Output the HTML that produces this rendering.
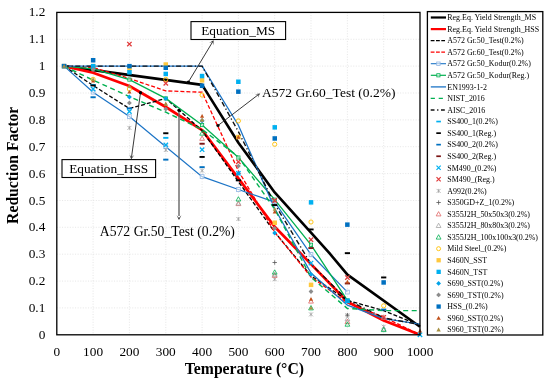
<!DOCTYPE html>
<html><head><meta charset="utf-8"><title>Reduction Factor vs Temperature</title>
<style>html,body{margin:0;padding:0;background:#fff}body{width:550px;height:384px;overflow:hidden}</style></head>
<body>
<svg width="550" height="384" viewBox="0 0 550 384" style="display:block;font-family:'Liberation Serif',serif">
<rect width="550" height="384" fill="#fff"/>
<path d="M93.1 12.4 V334.8 M129.4 12.4 V334.8 M165.8 12.4 V334.8 M202.1 12.4 V334.8 M238.4 12.4 V334.8 M274.7 12.4 V334.8 M311.0 12.4 V334.8 M347.4 12.4 V334.8 M383.7 12.4 V334.8 M56.8 307.9 H420.0 M56.8 281.1 H420.0 M56.8 254.2 H420.0 M56.8 227.3 H420.0 M56.8 200.5 H420.0 M56.8 173.6 H420.0 M56.8 146.7 H420.0 M56.8 119.9 H420.0 M56.8 93.0 H420.0 M56.8 66.1 H420.0 M56.8 39.3 H420.0" stroke="#dedede" stroke-width="0.7" stroke-dasharray="1.1 1.5" fill="none"/>
<polyline points="64.1,66.1 202.1,84.9 238.4,142.7 274.7,192.4 311.0,232.7 329.2,252.9 347.4,274.6 420.0,326.7" fill="none" stroke="#000" stroke-width="2.6" stroke-linejoin="round"/>
<polyline points="64.1,66.1 93.1,72.8 129.4,86.0 165.8,107.0 202.1,130.1 238.4,178.4 274.7,226.8 311.0,264.1 347.4,301.8 383.7,320.6 420.0,334.8" fill="none" stroke="#ff0000" stroke-width="2.7" stroke-linejoin="round"/>
<polyline points="64.1,66.1 93.1,85.5 129.4,108.6 165.8,98.4 202.1,130.6 238.4,181.7 274.7,232.2 311.0,275.7 347.4,300.4 383.7,310.6 420.0,325.4" fill="none" stroke="#000" stroke-width="1.3" stroke-dasharray="4 2"/>
<polyline points="64.1,66.1 93.1,67.5 129.4,78.5 165.8,90.9 202.1,92.2 238.4,170.9 274.7,232.2 311.0,277.0 347.4,302.8 383.7,317.1 420.0,334.8" fill="none" stroke="#ff0000" stroke-width="1.3" stroke-dasharray="4 2"/>
<polyline points="64.1,66.1 93.1,92.2 129.4,116.6 165.8,146.7 202.1,176.6 238.4,189.5 274.7,202.1 311.0,254.5 347.4,292.1" fill="none" stroke="#1c74c6" stroke-width="1.2"/>
<polyline points="64.1,66.1 93.1,68.8 129.4,79.6 165.8,98.4 202.1,125.0 238.4,157.5 274.7,199.7 311.0,244.8 347.4,300.4" fill="none" stroke="#00b050" stroke-width="1.3"/>
<polyline points="64.1,66.1 202.1,66.1 238.4,125.2 274.7,208.5 311.0,273.0 347.4,305.2 383.7,318.7 420.0,324.1" fill="none" stroke="#1c74c6" stroke-width="1.3"/>
<polyline points="64.1,66.1 93.1,80.2 129.4,96.6 165.8,112.2 202.1,129.5 238.4,156.9 274.7,209.2 311.0,277.3 347.4,308.5 383.7,310.6 420.0,310.6" fill="none" stroke="#00b050" stroke-width="1.4" stroke-dasharray="5 3.5"/>
<polyline points="64.1,66.1 202.1,66.1 238.4,131.7 274.7,204.0 311.0,264.1 347.4,299.9 383.7,317.9 420.0,324.6" fill="none" stroke="#111" stroke-width="1.4" stroke-dasharray="5 2.5 1.2 2.5"/>
<rect x="62.2" y="64.2" width="3.8" height="3.8" fill="#fff" fill-opacity="0.6" stroke="#8fb4e3" stroke-width="0.8"/>
<rect x="91.2" y="90.3" width="3.8" height="3.8" fill="#fff" fill-opacity="0.6" stroke="#8fb4e3" stroke-width="0.8"/>
<rect x="127.5" y="114.7" width="3.8" height="3.8" fill="#fff" fill-opacity="0.6" stroke="#8fb4e3" stroke-width="0.8"/>
<rect x="163.9" y="144.8" width="3.8" height="3.8" fill="#fff" fill-opacity="0.6" stroke="#8fb4e3" stroke-width="0.8"/>
<rect x="200.2" y="174.7" width="3.8" height="3.8" fill="#fff" fill-opacity="0.6" stroke="#8fb4e3" stroke-width="0.8"/>
<rect x="236.5" y="187.6" width="3.8" height="3.8" fill="#fff" fill-opacity="0.6" stroke="#8fb4e3" stroke-width="0.8"/>
<rect x="272.8" y="200.2" width="3.8" height="3.8" fill="#fff" fill-opacity="0.6" stroke="#8fb4e3" stroke-width="0.8"/>
<rect x="309.1" y="252.6" width="3.8" height="3.8" fill="#fff" fill-opacity="0.6" stroke="#8fb4e3" stroke-width="0.8"/>
<rect x="345.5" y="290.2" width="3.8" height="3.8" fill="#fff" fill-opacity="0.6" stroke="#8fb4e3" stroke-width="0.8"/>
<rect x="62.5" y="64.5" width="3.2" height="3.2" fill="#fff" fill-opacity="0.6" stroke="#00b050" stroke-width="0.8"/>
<rect x="91.5" y="67.2" width="3.2" height="3.2" fill="#fff" fill-opacity="0.6" stroke="#00b050" stroke-width="0.8"/>
<rect x="127.8" y="78.0" width="3.2" height="3.2" fill="#fff" fill-opacity="0.6" stroke="#00b050" stroke-width="0.8"/>
<rect x="164.2" y="96.8" width="3.2" height="3.2" fill="#fff" fill-opacity="0.6" stroke="#00b050" stroke-width="0.8"/>
<rect x="200.5" y="123.4" width="3.2" height="3.2" fill="#fff" fill-opacity="0.6" stroke="#00b050" stroke-width="0.8"/>
<rect x="236.8" y="155.9" width="3.2" height="3.2" fill="#fff" fill-opacity="0.6" stroke="#00b050" stroke-width="0.8"/>
<rect x="273.1" y="198.1" width="3.2" height="3.2" fill="#fff" fill-opacity="0.6" stroke="#00b050" stroke-width="0.8"/>
<rect x="309.4" y="243.2" width="3.2" height="3.2" fill="#fff" fill-opacity="0.6" stroke="#00b050" stroke-width="0.8"/>
<rect x="345.8" y="298.8" width="3.2" height="3.2" fill="#fff" fill-opacity="0.6" stroke="#00b050" stroke-width="0.8"/>
<rect x="90.5" y="84.0" width="5.2" height="1.9" fill="#00b0f0"/>
<rect x="163.2" y="136.9" width="5.2" height="1.9" fill="#00b0f0"/>
<rect x="90.5" y="84.5" width="5.2" height="1.9" fill="#000"/>
<rect x="163.2" y="132.3" width="5.2" height="1.9" fill="#000"/>
<rect x="199.5" y="156.0" width="5.2" height="1.9" fill="#000"/>
<rect x="235.8" y="179.4" width="5.2" height="1.9" fill="#000"/>
<rect x="272.1" y="204.1" width="5.2" height="1.9" fill="#000"/>
<rect x="308.4" y="228.5" width="5.2" height="1.9" fill="#000"/>
<rect x="344.8" y="252.2" width="5.2" height="1.9" fill="#000"/>
<rect x="381.1" y="276.5" width="5.2" height="1.9" fill="#000"/>
<rect x="90.5" y="96.3" width="5.2" height="1.9" fill="#0070c0"/>
<rect x="126.8" y="107.4" width="5.2" height="1.9" fill="#0070c0"/>
<rect x="163.2" y="158.7" width="5.2" height="1.9" fill="#0070c0"/>
<rect x="199.5" y="166.2" width="5.2" height="1.9" fill="#0070c0"/>
<rect x="381.1" y="308.6" width="5.2" height="1.9" fill="#0070c0"/>
<rect x="199.5" y="142.8" width="5.2" height="1.9" fill="#7b1414"/>
<rect x="308.4" y="247.1" width="5.2" height="1.9" fill="#7b1414"/>
<rect x="344.8" y="282.5" width="5.2" height="1.9" fill="#7b1414"/>
<path d="M90.9 86.8L95.3 91.2M90.9 91.2L95.3 86.8" stroke="#00b0f0" stroke-width="1.3" fill="none"/>
<path d="M127.2 109.3L131.6 113.7M127.2 113.7L131.6 109.3" stroke="#00b0f0" stroke-width="1.3" fill="none"/>
<path d="M163.6 142.7L168.0 147.1M163.6 147.1L168.0 142.7" stroke="#00b0f0" stroke-width="1.3" fill="none"/>
<path d="M199.9 147.5L204.3 151.9M199.9 151.9L204.3 147.5" stroke="#00b0f0" stroke-width="1.3" fill="none"/>
<path d="M236.2 171.1L240.6 175.5M236.2 175.5L240.6 171.1" stroke="#00b0f0" stroke-width="1.3" fill="none"/>
<path d="M308.8 260.9L313.2 265.3M308.8 265.3L313.2 260.9" stroke="#00b0f0" stroke-width="1.3" fill="none"/>
<path d="M345.2 298.7L349.6 303.1M345.2 303.1L349.6 298.7" stroke="#00b0f0" stroke-width="1.3" fill="none"/>
<path d="M417.8 332.6L422.2 337.0M417.8 337.0L422.2 332.6" stroke="#00b0f0" stroke-width="1.3" fill="none"/>
<path d="M127.2 41.9L131.6 46.3M127.2 46.3L131.6 41.9" stroke="#e03a3a" stroke-width="1.3" fill="none"/>
<path d="M163.6 81.1L168.0 85.5M163.6 85.5L168.0 81.1" stroke="#e03a3a" stroke-width="1.3" fill="none"/>
<path d="M236.2 159.6L240.6 164.0M236.2 164.0L240.6 159.6" stroke="#e03a3a" stroke-width="1.3" fill="none"/>
<path d="M272.5 198.3L276.9 202.7M272.5 202.7L276.9 198.3" stroke="#e03a3a" stroke-width="1.3" fill="none"/>
<path d="M308.8 237.5L313.2 241.9M308.8 241.9L313.2 237.5" stroke="#e03a3a" stroke-width="1.3" fill="none"/>
<path d="M345.2 275.4L349.6 279.8M345.2 279.8L349.6 275.4" stroke="#e03a3a" stroke-width="1.3" fill="none"/>
<path d="M381.5 315.1L385.9 319.5M381.5 319.5L385.9 315.1" stroke="#e03a3a" stroke-width="1.3" fill="none"/>
<path d="M127.4 125.9L131.4 129.9M127.4 129.9L131.4 125.9M129.4 125.9V129.9" stroke="#9a9a9a" stroke-width="0.7" fill="none"/>
<path d="M163.8 148.0L167.8 152.0M163.8 152.0L167.8 148.0M165.8 148.0V152.0" stroke="#9a9a9a" stroke-width="0.7" fill="none"/>
<path d="M200.1 168.6L204.1 172.6M200.1 172.6L204.1 168.6M202.1 168.6V172.6" stroke="#9a9a9a" stroke-width="0.7" fill="none"/>
<path d="M236.4 217.0L240.4 221.0M236.4 221.0L240.4 217.0M238.4 217.0V221.0" stroke="#9a9a9a" stroke-width="0.7" fill="none"/>
<path d="M272.7 277.2L276.7 281.2M272.7 281.2L276.7 277.2M274.7 277.2V281.2" stroke="#9a9a9a" stroke-width="0.7" fill="none"/>
<path d="M309.0 312.4L313.0 316.4M309.0 316.4L313.0 312.4M311.0 312.4V316.4" stroke="#9a9a9a" stroke-width="0.7" fill="none"/>
<path d="M345.4 313.2L349.4 317.2M345.4 317.2L349.4 313.2M347.4 313.2V317.2" stroke="#9a9a9a" stroke-width="0.7" fill="none"/>
<path d="M381.7 324.7L385.7 328.7M381.7 328.7L385.7 324.7M383.7 324.7V328.7" stroke="#9a9a9a" stroke-width="0.7" fill="none"/>
<path d="M272.5 262.5H276.9M274.7 260.3V264.7" stroke="#555" stroke-width="0.8" fill="none"/>
<path d="M345.2 315.2H349.6M347.4 313.0V317.4" stroke="#555" stroke-width="0.8" fill="none"/>
<path d="M202.1 136.0L204.5 140.3H199.7Z" stroke="#e06666" stroke-width="0.8" fill="none"/>
<path d="M238.4 201.3L240.8 205.6H236.0Z" stroke="#e06666" stroke-width="0.8" fill="none"/>
<path d="M274.7 273.0L277.1 277.3H272.3Z" stroke="#e06666" stroke-width="0.8" fill="none"/>
<path d="M311.0 298.8L313.4 303.1H308.6Z" stroke="#e06666" stroke-width="0.8" fill="none"/>
<path d="M347.4 319.2L349.8 323.6H345.0Z" stroke="#e06666" stroke-width="0.8" fill="none"/>
<path d="M383.7 314.9L386.1 319.3H381.3Z" stroke="#e06666" stroke-width="0.8" fill="none"/>
<path d="M238.4 200.8L240.8 205.1H236.0Z" stroke="#a6a6a6" stroke-width="0.8" fill="none"/>
<path d="M274.7 272.0L277.1 276.3H272.3Z" stroke="#a6a6a6" stroke-width="0.8" fill="none"/>
<path d="M347.4 316.5L349.8 320.9H345.0Z" stroke="#a6a6a6" stroke-width="0.8" fill="none"/>
<path d="M383.7 326.5L386.1 330.8H381.3Z" stroke="#a6a6a6" stroke-width="0.8" fill="none"/>
<path d="M202.1 130.9L204.5 135.2H199.7Z" stroke="#00b050" stroke-width="0.8" fill="none"/>
<path d="M238.4 196.7L240.8 201.0H236.0Z" stroke="#00b050" stroke-width="0.8" fill="none"/>
<path d="M274.7 269.8L277.1 274.1H272.3Z" stroke="#00b050" stroke-width="0.8" fill="none"/>
<path d="M311.0 305.5L313.4 309.9H308.6Z" stroke="#00b050" stroke-width="0.8" fill="none"/>
<path d="M347.4 321.9L349.8 326.2H345.0Z" stroke="#00b050" stroke-width="0.8" fill="none"/>
<path d="M383.7 327.3L386.1 331.6H381.3Z" stroke="#00b050" stroke-width="0.8" fill="none"/>
<circle cx="93.1" cy="79.3" r="2.1" stroke="#ffc000" stroke-width="0.9" fill="none"/>
<circle cx="129.4" cy="89.0" r="2.1" stroke="#ffc000" stroke-width="0.9" fill="none"/>
<circle cx="165.8" cy="79.3" r="2.1" stroke="#ffc000" stroke-width="0.9" fill="none"/>
<circle cx="202.1" cy="95.1" r="2.1" stroke="#ffc000" stroke-width="0.9" fill="none"/>
<circle cx="238.4" cy="120.9" r="2.1" stroke="#ffc000" stroke-width="0.9" fill="none"/>
<circle cx="274.7" cy="144.3" r="2.1" stroke="#ffc000" stroke-width="0.9" fill="none"/>
<circle cx="311.0" cy="222.0" r="2.1" stroke="#ffc000" stroke-width="0.9" fill="none"/>
<circle cx="383.7" cy="305.8" r="2.1" stroke="#ffc000" stroke-width="0.9" fill="none"/>
<rect x="61.8" y="63.9" width="4.5" height="4.5" fill="#ffc83d"/>
<rect x="90.9" y="63.9" width="4.5" height="4.5" fill="#ffc83d"/>
<rect x="127.2" y="66.6" width="4.5" height="4.5" fill="#ffc83d"/>
<rect x="163.5" y="62.3" width="4.5" height="4.5" fill="#ffc83d"/>
<rect x="199.8" y="78.1" width="4.5" height="4.5" fill="#ffc83d"/>
<rect x="236.1" y="134.8" width="4.5" height="4.5" fill="#ffc83d"/>
<rect x="272.5" y="220.5" width="4.5" height="4.5" fill="#ffc83d"/>
<rect x="308.8" y="282.6" width="4.5" height="4.5" fill="#ffc83d"/>
<rect x="90.9" y="63.9" width="4.5" height="4.5" fill="#00b0f0"/>
<rect x="127.2" y="70.1" width="4.5" height="4.5" fill="#00b0f0"/>
<rect x="163.5" y="71.7" width="4.5" height="4.5" fill="#00b0f0"/>
<rect x="199.8" y="73.8" width="4.5" height="4.5" fill="#00b0f0"/>
<rect x="236.1" y="79.5" width="4.5" height="4.5" fill="#00b0f0"/>
<rect x="272.5" y="125.1" width="4.5" height="4.5" fill="#00b0f0"/>
<rect x="308.8" y="200.1" width="4.5" height="4.5" fill="#00b0f0"/>
<rect x="345.1" y="298.7" width="4.5" height="4.5" fill="#00b0f0"/>
<path d="M93.1 66.4L95.5 68.8L93.1 71.2L90.7 68.8Z" fill="#00a2e8"/>
<path d="M129.4 94.6L131.8 97.0L129.4 99.4L127.0 97.0Z" fill="#00a2e8"/>
<path d="M165.8 96.2L168.2 98.6L165.8 101.0L163.4 98.6Z" fill="#00a2e8"/>
<path d="M202.1 118.5L204.5 120.9L202.1 123.3L199.7 120.9Z" fill="#00a2e8"/>
<path d="M238.4 170.9L240.8 173.3L238.4 175.7L236.0 173.3Z" fill="#00a2e8"/>
<path d="M274.7 230.6L277.1 233.0L274.7 235.4L272.3 233.0Z" fill="#00a2e8"/>
<path d="M311.0 272.0L313.4 274.4L311.0 276.8L308.6 274.4Z" fill="#00a2e8"/>
<path d="M347.4 298.5L349.8 300.9L347.4 303.3L345.0 300.9Z" fill="#00a2e8"/>
<path d="M93.1 67.0L95.5 69.4L93.1 71.8L90.7 69.4Z" fill="#8c8c8c"/>
<path d="M129.4 100.5L131.8 102.9L129.4 105.3L127.0 102.9Z" fill="#8c8c8c"/>
<path d="M165.8 106.7L168.2 109.1L165.8 111.5L163.4 109.1Z" fill="#8c8c8c"/>
<path d="M202.1 118.0L204.5 120.4L202.1 122.8L199.7 120.4Z" fill="#8c8c8c"/>
<path d="M238.4 163.7L240.8 166.1L238.4 168.5L236.0 166.1Z" fill="#8c8c8c"/>
<path d="M274.7 226.0L277.1 228.4L274.7 230.8L272.3 228.4Z" fill="#8c8c8c"/>
<path d="M311.0 289.1L313.4 291.5L311.0 293.9L308.6 291.5Z" fill="#8c8c8c"/>
<rect x="61.8" y="63.9" width="4.5" height="4.5" fill="#0070c0"/>
<rect x="90.9" y="58.0" width="4.5" height="4.5" fill="#0070c0"/>
<rect x="127.2" y="63.9" width="4.5" height="4.5" fill="#0070c0"/>
<rect x="163.5" y="65.5" width="4.5" height="4.5" fill="#0070c0"/>
<rect x="199.8" y="83.5" width="4.5" height="4.5" fill="#0070c0"/>
<rect x="236.1" y="89.4" width="4.5" height="4.5" fill="#0070c0"/>
<rect x="272.5" y="136.2" width="4.5" height="4.5" fill="#0070c0"/>
<rect x="345.1" y="222.4" width="4.5" height="4.5" fill="#0070c0"/>
<rect x="381.4" y="280.2" width="4.5" height="4.5" fill="#0070c0"/>
<path d="M93.1 78.9L95.2 82.5H91.1Z" fill="#c0501a"/>
<path d="M129.4 89.9L131.5 93.6H127.4Z" fill="#c0501a"/>
<path d="M165.8 101.7L167.8 105.4H163.7Z" fill="#c0501a"/>
<path d="M202.1 114.1L204.1 117.7H200.0Z" fill="#c0501a"/>
<path d="M238.4 135.0L240.4 138.7H236.3Z" fill="#c0501a"/>
<path d="M274.7 209.7L276.8 213.4H272.7Z" fill="#c0501a"/>
<path d="M311.0 297.0L313.1 300.7H309.0Z" fill="#c0501a"/>
<path d="M347.4 279.8L349.4 283.5H345.3Z" fill="#c0501a"/>
<path d="M420.0 328.7L422.1 332.4H417.9Z" fill="#c0501a"/>
<path d="M64.1 64.1L66.1 67.8H62.0Z" fill="#a69042"/>
<path d="M93.1 77.2L95.2 80.9H91.1Z" fill="#a69042"/>
<path d="M129.4 84.0L131.5 87.7H127.4Z" fill="#a69042"/>
<path d="M165.8 102.0L167.8 105.7H163.7Z" fill="#a69042"/>
<path d="M202.1 117.8L204.1 121.5H200.0Z" fill="#a69042"/>
<path d="M274.7 207.0L276.8 210.7H272.7Z" fill="#a69042"/>
<path d="M311.0 305.9L313.1 309.6H309.0Z" fill="#a69042"/>
<rect x="56.8" y="12.4" width="363.2" height="322.4" fill="none" stroke="#000" stroke-width="1.3"/>
<line x1="188.4" y1="82" x2="212.6" y2="41.9" stroke="#222" stroke-width="0.9"/>
<path d="M213.6 40.2L213.3 45.4L212.7 41.7L209.1 42.9Z" fill="#222"/>
<circle cx="188.4" cy="82" r="1.6" fill="#000"/>
<line x1="140.5" y1="92.7" x2="131.5" y2="157.2" stroke="#222" stroke-width="0.9"/>
<path d="M131.2 159.2L129.4 154.3L131.4 157.4L134.3 155.0Z" fill="#222"/>
<circle cx="140.5" cy="92.7" r="1.6" fill="#000"/>
<line x1="218" y1="125.5" x2="258.4" y2="94.6" stroke="#222" stroke-width="0.9"/>
<path d="M260.0 93.4L257.8 98.1L258.6 94.5L254.9 94.2Z" fill="#222"/>
<circle cx="218" cy="125.5" r="1.6" fill="#000"/>
<line x1="179" y1="110.3" x2="179" y2="216" stroke="#666" stroke-width="1.4"/>
<line x1="179" y1="214" x2="179.0" y2="217.9" stroke="#222" stroke-width="0.01"/>
<path d="M179.0 219.9L176.6 215.3L179.0 218.1L181.4 215.3Z" fill="#222"/>
<circle cx="179" cy="110.3" r="1.6" fill="#000"/>
<rect x="191" y="21.6" width="94.6" height="17.9" fill="#fff" stroke="#000" stroke-width="1.1"/>
<text x="238.2" y="35.3" font-size="13.3" text-anchor="middle">Equation_MS</text>
<rect x="62" y="159.6" width="93.6" height="17.9" fill="#fff" stroke="#000" stroke-width="1.1"/>
<text x="108.7" y="173.3" font-size="13.3" text-anchor="middle">Equation_HSS</text>
<text x="262.1" y="96.6" font-size="13.5">A572 Gr.60_Test (0.2%)</text>
<text x="99.8" y="235.6" font-size="13.7">A572 Gr.50_Test (0.2%)</text>
<text x="45.3" y="338.8" font-size="13.3" text-anchor="end">0</text>
<text x="45.3" y="311.9" font-size="13.3" text-anchor="end">0.1</text>
<text x="45.3" y="285.1" font-size="13.3" text-anchor="end">0.2</text>
<text x="45.3" y="258.2" font-size="13.3" text-anchor="end">0.3</text>
<text x="45.3" y="231.3" font-size="13.3" text-anchor="end">0.4</text>
<text x="45.3" y="204.5" font-size="13.3" text-anchor="end">0.5</text>
<text x="45.3" y="177.6" font-size="13.3" text-anchor="end">0.6</text>
<text x="45.3" y="150.7" font-size="13.3" text-anchor="end">0.7</text>
<text x="45.3" y="123.9" font-size="13.3" text-anchor="end">0.8</text>
<text x="45.3" y="97.0" font-size="13.3" text-anchor="end">0.9</text>
<text x="45.3" y="70.1" font-size="13.3" text-anchor="end">1</text>
<text x="45.3" y="43.3" font-size="13.3" text-anchor="end">1.1</text>
<text x="45.3" y="16.4" font-size="13.3" text-anchor="end">1.2</text>
<text x="56.8" y="355.6" font-size="13.3" text-anchor="middle">0</text>
<text x="93.1" y="355.6" font-size="13.3" text-anchor="middle">100</text>
<text x="129.4" y="355.6" font-size="13.3" text-anchor="middle">200</text>
<text x="165.8" y="355.6" font-size="13.3" text-anchor="middle">300</text>
<text x="202.1" y="355.6" font-size="13.3" text-anchor="middle">400</text>
<text x="238.4" y="355.6" font-size="13.3" text-anchor="middle">500</text>
<text x="274.7" y="355.6" font-size="13.3" text-anchor="middle">600</text>
<text x="311.0" y="355.6" font-size="13.3" text-anchor="middle">700</text>
<text x="347.4" y="355.6" font-size="13.3" text-anchor="middle">800</text>
<text x="383.7" y="355.6" font-size="13.3" text-anchor="middle">900</text>
<text x="420.0" y="355.6" font-size="13.3" text-anchor="middle">1000</text>
<text x="244.4" y="374.4" font-size="15.7" font-weight="bold" text-anchor="middle">Temperature (°C)</text>
<text transform="translate(17.8 165.3) rotate(-90)" font-size="15.7" font-weight="bold" text-anchor="middle">Reduction Factor</text>
<rect x="427.4" y="11.6" width="115.4" height="323.4" fill="#fff" stroke="#000" stroke-width="1.3"/>
<line x1="430.8" y1="17.5" x2="446.0" y2="17.5" stroke="#000" stroke-width="2.2"/>
<line x1="430.8" y1="29.1" x2="446.0" y2="29.1" stroke="#ff0000" stroke-width="2.2"/>
<line x1="430.7" y1="40.6" x2="445" y2="40.6" stroke="#000" stroke-width="1.2" stroke-dasharray="3.8 1.5"/>
<line x1="430.7" y1="52.2" x2="445" y2="52.2" stroke="#ff0000" stroke-width="1.2" stroke-dasharray="3.8 1.5"/>
<line x1="430.8" y1="63.7" x2="446.0" y2="63.7" stroke="#1c74c6" stroke-width="1.1"/>
<rect x="436.7" y="62.0" width="3.4" height="3.4" fill="#fff" fill-opacity="0.6" stroke="#8fb4e3" stroke-width="0.8"/>
<line x1="430.8" y1="75.3" x2="446.0" y2="75.3" stroke="#00b050" stroke-width="1.2"/>
<rect x="436.8" y="73.7" width="3.2" height="3.2" fill="#fff" fill-opacity="0.6" stroke="#00b050" stroke-width="0.8"/>
<line x1="430.8" y1="86.9" x2="446.0" y2="86.9" stroke="#1c74c6" stroke-width="1.3"/>
<line x1="430.7" y1="98.4" x2="443" y2="98.4" stroke="#00b050" stroke-width="1.3" stroke-dasharray="4.2 3.8"/>
<line x1="430.7" y1="110.0" x2="446.2" y2="110.0" stroke="#111" stroke-width="1.3" stroke-dasharray="3.8 2.6 1.3 2.6"/>
<rect x="436.3" y="120.7" width="4.6" height="1.7" fill="#00b0f0"/>
<rect x="436.3" y="132.3" width="4.6" height="1.7" fill="#000"/>
<rect x="436.3" y="143.8" width="4.6" height="1.7" fill="#0070c0"/>
<rect x="436.3" y="155.4" width="4.6" height="1.7" fill="#7b1414"/>
<path d="M436.5 165.7L440.7 169.9M436.5 169.9L440.7 165.7" stroke="#00b0f0" stroke-width="1.2" fill="none"/>
<path d="M436.5 177.2L440.7 181.4M436.5 181.4L440.7 177.2" stroke="#e03a3a" stroke-width="1.2" fill="none"/>
<path d="M436.6 188.9L440.6 192.9M436.6 192.9L440.6 188.9M438.6 188.9V192.9" stroke="#9a9a9a" stroke-width="0.7" fill="none"/>
<path d="M436.4 202.5H440.8M438.6 200.3V204.7" stroke="#555" stroke-width="0.8" fill="none"/>
<path d="M438.6 211.6L441.0 215.9H436.2Z" stroke="#e06666" stroke-width="0.8" fill="none"/>
<path d="M438.6 223.2L441.0 227.5H436.2Z" stroke="#a6a6a6" stroke-width="0.8" fill="none"/>
<path d="M438.6 234.7L441.0 239.1H436.2Z" stroke="#00b050" stroke-width="0.8" fill="none"/>
<circle cx="438.6" cy="248.7" r="2.0" stroke="#ffc000" stroke-width="0.9" fill="none"/>
<rect x="436.5" y="258.1" width="4.3" height="4.3" fill="#ffc83d"/>
<rect x="436.5" y="269.7" width="4.3" height="4.3" fill="#00b0f0"/>
<path d="M438.6 281.0L441.0 283.4L438.6 285.8L436.2 283.4Z" fill="#00a2e8"/>
<path d="M438.6 292.5L441.0 294.9L438.6 297.3L436.2 294.9Z" fill="#8c8c8c"/>
<rect x="436.5" y="304.4" width="4.3" height="4.3" fill="#0070c0"/>
<path d="M438.6 315.9L440.8 319.8H436.4Z" fill="#c0501a"/>
<path d="M438.6 327.4L440.8 331.4H436.4Z" fill="#a69042"/>
<text x="447.3" y="20.2" font-size="7.95">Reg.Eq. Yield Strength_MS</text>
<text x="447.3" y="31.8" font-size="7.95">Reg.Eq. Yield Strength_HSS</text>
<text x="447.3" y="43.3" font-size="7.95">A572 Gr.50_Test(0.2%)</text>
<text x="447.3" y="54.9" font-size="7.95">A572 Gr.60_Test(0.2%)</text>
<text x="447.3" y="66.4" font-size="7.95">A572 Gr.50_Kodur(0.2%)</text>
<text x="447.3" y="78.0" font-size="7.95">A572 Gr.50_Kodur(Reg.)</text>
<text x="447.3" y="89.6" font-size="7.95">EN1993-1-2</text>
<text x="447.3" y="101.1" font-size="7.95">NIST_2016</text>
<text x="447.3" y="112.7" font-size="7.95">AISC_2016</text>
<text x="447.3" y="124.2" font-size="7.95">SS400_1(0.2%)</text>
<text x="447.3" y="135.8" font-size="7.95">SS400_1(Reg.)</text>
<text x="447.3" y="147.4" font-size="7.95">SS400_2(0.2%)</text>
<text x="447.3" y="158.9" font-size="7.95">SS400_2(Reg.)</text>
<text x="447.3" y="170.5" font-size="7.95">SM490_(0.2%)</text>
<text x="447.3" y="182.0" font-size="7.95">SM490_(Reg.)</text>
<text x="447.3" y="193.6" font-size="7.95">A992(0.2%)</text>
<text x="447.3" y="205.2" font-size="7.95">S350GD+Z_1(0.2%)</text>
<text x="447.3" y="216.7" font-size="7.95">S355J2H_50x50x3(0.2%)</text>
<text x="447.3" y="228.3" font-size="7.95">S355J2H_80x80x3(0.2%)</text>
<text x="447.3" y="239.8" font-size="7.95">S355J2H_100x100x3(0.2%)</text>
<text x="447.3" y="251.4" font-size="7.95">Mild Steel_(0.2%)</text>
<text x="447.3" y="263.0" font-size="7.95">S460N_SST</text>
<text x="447.3" y="274.5" font-size="7.95">S460N_TST</text>
<text x="447.3" y="286.1" font-size="7.95">S690_SST(0.2%)</text>
<text x="447.3" y="297.6" font-size="7.95">S690_TST(0.2%)</text>
<text x="447.3" y="309.2" font-size="7.95">HSS_(0.2%)</text>
<text x="447.3" y="320.8" font-size="7.95">S960_SST(0.2%)</text>
<text x="447.3" y="332.3" font-size="7.95">S960_TST(0.2%)</text>
</svg>
</body></html>
